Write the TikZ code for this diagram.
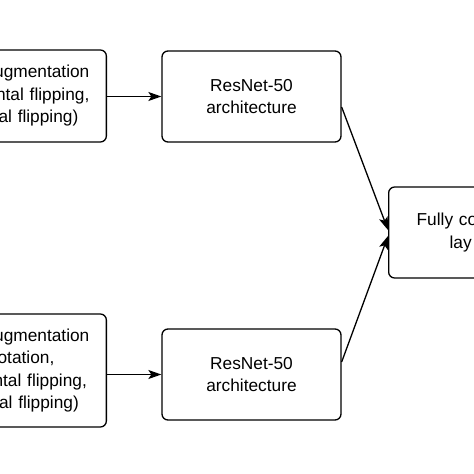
\documentclass[tikz,border=0pt]{standalone}
\usepackage{fontspec}
\setmainfont{Liberation Sans}
\usepackage{tikz}
\usetikzlibrary{arrows.meta, positioning}

\newcommand{\padr}[1]{\rule{#1}{0pt}}

\begin{document}
\begin{tikzpicture}[x=1pt, y=-1pt,
    box/.style={draw, line width=1.3pt, rounded corners=6pt, inner ysep=0pt,
        font=\fontsize{17.3}{22.5}\selectfont},
    arr/.style={-{Stealth[length=13pt, width=9pt, inset=3pt]}, line width=1.3pt}]
    \useasboundingbox (0,0) rectangle (474,474);

    % Augmentation boxes (cut at the left edge)
    \node[box, anchor=east, text width=113pt, inner xsep=17pt, minimum height=92pt, align=right]
        (aug1) at (107,96) {ugmentation\\ ntal flipping,\\ al flipping)\padr{11pt}};
    \node[box, anchor=east, text width=113pt, inner xsep=17pt, minimum height=113pt, align=right]
        (aug2) at (107,370.5) {ugmentation\\ otation,\padr{35pt}\\ ntal flipping,\padr{2.5pt}\\ al flipping)\padr{10.5pt}};

    % ResNet boxes
    \node[box, minimum width=179pt, minimum height=91pt, align=center]
        (res1) at (251.5,96.5) {ResNet-50\\ architecture};
    \node[box, minimum width=179pt, minimum height=91pt, align=center]
        (res2) at (251.5,374.5) {ResNet-50\\ architecture};

    % Fully connected box (cut at the right edge)
    \node[box, anchor=west, text width=120pt, inner xsep=28pt, minimum height=91pt, align=left]
        (fc) at (388,232.5) {Fully co\\ \hspace*{33pt}lay};

    % Arrows
    \draw[arr] (aug1.east |- res1.west) -- (res1.west);
    \draw[arr] (aug2.east |- res2.west) -- (res2.west);
    \draw[arr] ([yshift=-10.5pt]res1.east) -- ([yshift=2.5pt]fc.west);
    \draw[arr] ([yshift=12.5pt]res2.east) -- ([yshift=-3.5pt]fc.west);
\end{tikzpicture}
\end{document}
